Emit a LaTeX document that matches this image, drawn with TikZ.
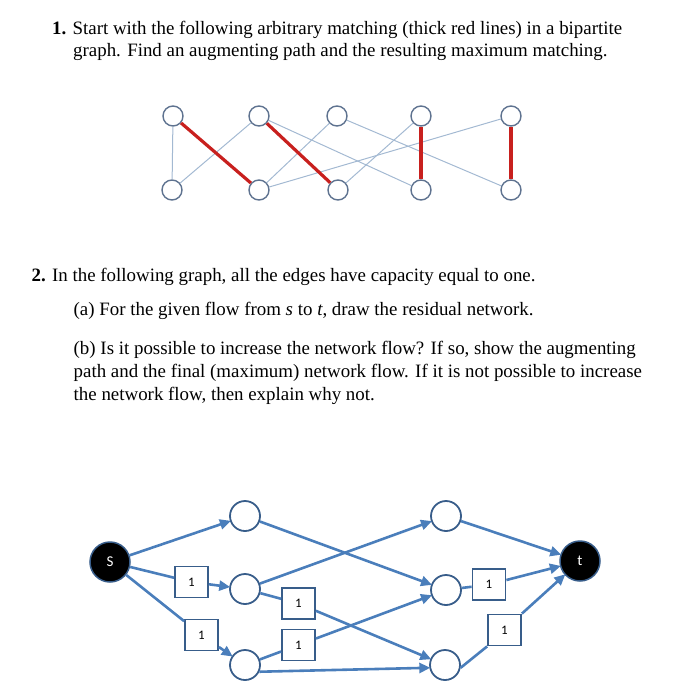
\documentclass[tikz,border=0pt]{standalone}
\usepackage{fontspec}
\setmainfont{Liberation Serif}
\newfontfamily\lblfont{Carlito}
\usepackage{tikz}
\usetikzlibrary{arrows.meta, positioning}
\definecolor{qEdge}{HTML}{4A7EBB}
\definecolor{qRing}{HTML}{385D8A}
\definecolor{qThin}{HTML}{A3B9D2}
\definecolor{qGray}{HTML}{5F7390}
\definecolor{qRed}{HTML}{C8201E}

\begin{document}
\begin{tikzpicture}[x=1pt, y=-1pt,
  txt/.style={anchor=base west, inner sep=0pt, font=\fontsize{18.9}{23}\selectfont},
  bnode/.style={circle, draw=qGray, line width=1.4pt, fill=white, minimum size=20pt, inner sep=0pt},
  plain/.style={draw=qThin, line width=1pt},
  match/.style={draw=qRed, line width=3.2pt},
  vtx/.style={circle, draw=qRing, line width=1.8pt, fill=white, minimum size=30pt, inner sep=0pt},
  term/.style={circle, draw=qRing, line width=1.5pt, fill=black, text=white, minimum size=40pt,
               inner sep=0pt, font=\lblfont\fontsize{15}{15}\selectfont},
  capbox/.style={rectangle, draw=qRing, line width=1.8pt, fill=white, minimum width=33pt,
              minimum height=31pt, inner sep=0pt, font=\lblfont\fontsize{13}{13}\selectfont},
  seg/.style={draw=qEdge, line width=2.6pt},
  arr/.style={seg, -{Triangle[length=11pt, width=10pt]}, shorten >=-1pt}
]
  \useasboundingbox (0,0) rectangle (700,691);

  % question 1
  \node[txt] (q1a) at (52,34) {\textbf{1.} Start with the following arbitrary matching (thick red lines) in a bipartite};
  \node[txt] (q1b) at (73,56.7) {graph. Find an augmenting path and the resulting maximum matching.};

  % bipartite graph
  \foreach \i/\x in {1/173, 2/259, 3/337, 4/421, 5/511} {
    \node[bnode] (u\i) at (\x,116) {};
  }
  \foreach \i/\x in {1/172, 2/259, 3/338, 4/421, 5/511} {
    \node[bnode] (v\i) at (\x,190) {};
  }
  \foreach \a/\b in {u1/v1, u2/v1, u2/v4, u3/v2, u3/v5, u4/v3, u5/v2} {
    \draw[plain] (\a) -- (\b);
  }
  \foreach \a/\b in {u1/v2, u2/v3, u4/v4, u5/v5} {
    \draw[match] (\a) -- (\b);
  }

  % question 2
  \node[txt] (q2) at (31.5,281) {\textbf{2.} In the following graph, all the edges have capacity equal to one.};
  \node[txt] (q2a) at (73.5,315.5) {(a) For the given flow from \textit{s} to \textit{t}, draw the residual network.};
  \node[txt] (q2b) at (73.5,354) {(b) Is it possible to increase the network flow? If so, show the augmenting};
  \node[txt] (q2c) at (73.5,377) {path and the final (maximum) network flow. If it is not possible to increase};
  \node[txt] (q2d) at (73.5,400) {the network flow, then explain why not.};

  % flow network
  \node[term] (s) at (110,562) {S};
  \node[term] (t) at (580,561) {t};
  \node[vtx] (a1) at (245,516) {};
  \node[vtx] (a2) at (245,589) {};
  \node[vtx] (a3) at (245,665) {};
  \node[vtx] (b1) at (446,516) {};
  \node[vtx] (b2) at (446,590) {};
  \node[vtx] (b3) at (445,665) {};

  \node[capbox] (f1) at (191.5,582) {1};
  \node[capbox] (f2) at (201.5,635) {1};
  \node[capbox] (f3) at (298.5,603.5) {1};
  \node[capbox] (f4) at (298.5,645) {1};
  \node[capbox] (f5) at (489,584.5) {1};
  \node[capbox] (f6) at (504.5,630) {1};

  \draw[arr] (s) -- (a1);
  \draw[seg] (s) -- (f1);
  \draw[arr] (f1) -- (a2);
  \draw[seg] (s) -- (f2);
  \draw[arr] (f2) -- (a3);
  \draw[arr] (a1) -- (b2);
  \draw[arr] (a2) -- (b1);
  \draw[seg] (a2) -- (f3);
  \draw[arr] (f3) -- (b3);
  \draw[seg] (a3) -- (f4);
  \draw[arr] (f4) -- (b2);
  \draw[arr] (a3.-25) -- (b3.190);
  \draw[arr] (b1) -- (t);
  \draw[seg] (b2) -- (f5);
  \draw[arr] (f5) -- (t);
  \draw[seg] (b3.-10) -- (f6.south west);
  \draw[arr] (f6.north east) -- (t);
\end{tikzpicture}
\end{document}
